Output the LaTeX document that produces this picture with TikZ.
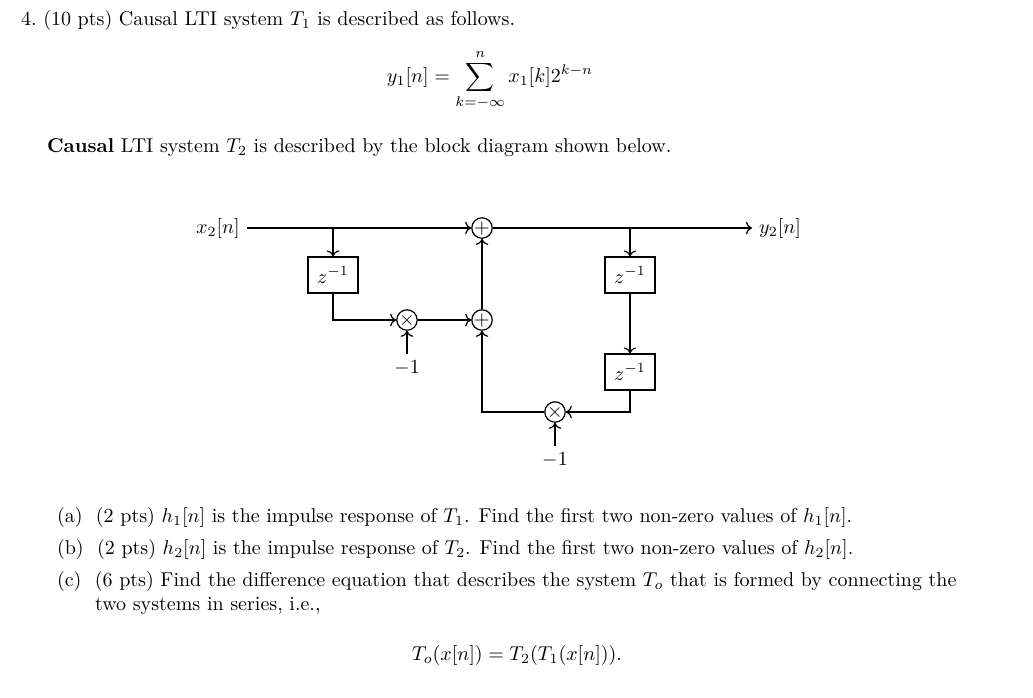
\documentclass[tikz,border=0pt]{standalone}
\usepackage{amsmath, amsfonts}
\usetikzlibrary{arrows.meta}

\tikzset{
  blk/.style={draw, line width=0.6pt, minimum width=25pt, minimum height=18pt, inner sep=1pt},
  op/.style={draw, circle, line width=0.6pt, inner sep=0pt, minimum size=9pt},
  sig/.style={line width=0.6pt, -{To[length=3pt]}}
}

\begin{document}
\begin{tikzpicture}[x=0.5pt, y=-0.5pt]
  \useasboundingbox (0,0) rectangle (1033,697);

  % text above
  \node[anchor=west] (q) at (14,20) {4.\ (10 pts) Causal LTI system $T_1$ is described as follows.};
  \node (eq1) at (490,80) {$\displaystyle y_1[n] = \sum_{k=-\infty}^{n} x_1[k]2^{k-n}$};
  \node[anchor=west] (q2) at (40,148) {\textbf{Causal} LTI system $T_2$ is described by the block diagram shown below.};

  % block diagram
  \node (x) at (218,228) {$x_2[n]$};
  \node (y) at (780,228) {$y_2[n]$};
  \node[op] (a1) at (482,228) {$+$};
  \node[op] (a2) at (482,320) {$+$};
  \node[op] (m1) at (407,320) {$\times$};
  \node[op] (m2) at (555,412) {$\times$};
  \node[blk] (d1) at (333,275) {$z^{-1}$};
  \node[blk] (d2) at (630,275) {$z^{-1}$};
  \node[blk] (d3) at (630,372) {$z^{-1}$};
  \node (g1) at (407,368) {$-1$};
  \node (g2) at (555,460) {$-1$};
  \coordinate (b1) at (333,228);
  \coordinate (b2) at (630,228);

  \draw[sig] (x) -- (a1);
  \draw[sig] (a1) -- (y);
  \draw[sig] (b1) -- (d1);
  \draw[sig] (b2) -- (d2);
  \draw[sig] (d2) -- (d3);
  \draw[sig] (d1) |- (m1);
  \draw[sig] (m1) -- (a2);
  \draw[sig] (a2) -- (a1);
  \draw[sig] (d3) |- (m2);
  \draw[sig] (m2) -| (a2);
  \draw[sig] (g1) -- (m1);
  \draw[sig] (g2) -- (m2);

  % questions
  \node[anchor=west] (pa) at (50,517) {(a)\ \ (2 pts) $h_1[n]$ is the impulse response of $T_1$. Find the first two non-zero values of $h_1[n]$.};
  \node[anchor=west] (pb) at (50,549) {(b)\ \ (2 pts) $h_2[n]$ is the impulse response of $T_2$. Find the first two non-zero values of $h_2[n]$.};
  \node[anchor=west] (pc) at (50,581) {(c)\ \ (6 pts) Find the difference equation that describes the system $T_o$ that is formed by connecting the};
  \node[anchor=west] (pc2) at (88,606) {two systems in series, i.e.,};
  \node (eq2) at (517,655) {$T_o(x[n]) = T_2(T_1(x[n])).$};
\end{tikzpicture}
\end{document}
